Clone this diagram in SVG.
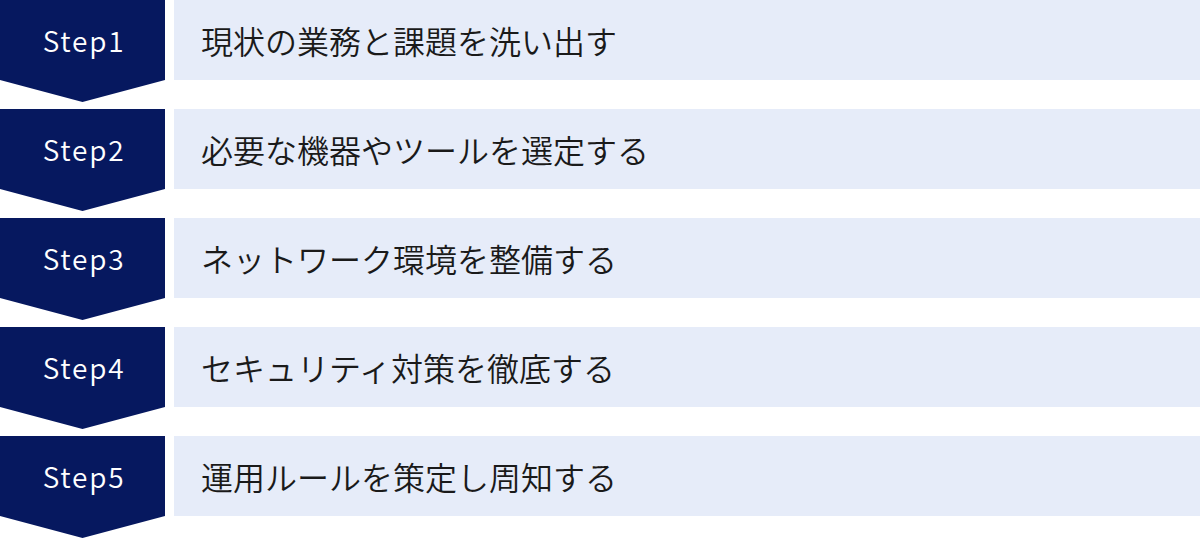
<svg xmlns="http://www.w3.org/2000/svg" width="1200" height="538" viewBox="0 0 1200 538">
<defs>
<style>
.chev{fill:#06185F}
.bar{fill:#E6ECF9}
.step{font-family:"Noto Sans CJK JP","Noto Sans",sans-serif;font-size:28px;font-weight:350;fill:#FFFFFF;text-anchor:middle;letter-spacing:1.8px}
.lbl{font-family:"Noto Sans CJK JP","Noto Sans",sans-serif;font-size:32px;font-weight:350;fill:#1A1A1A}
</style>
<polygon id="chevShape" points="0,0 165,0 165,80 82.5,102 0,80"/>
</defs>
<rect width="1200" height="538" fill="#FFFFFF"/>
<g id="connectors"></g>
<g id="step1" transform="translate(0,0)">
<use href="#chevShape" class="chev"/>
<rect class="bar" x="174" y="0" width="1026" height="80"/>
<text class="step" x="84" y="52">Step1</text>
<text class="lbl" x="201" y="54">現状の業務と課題を洗い出す</text>
</g>
<g id="step2" transform="translate(0,109)">
<use href="#chevShape" class="chev"/>
<rect class="bar" x="174" y="0" width="1026" height="80"/>
<text class="step" x="84" y="52">Step2</text>
<text class="lbl" x="201" y="54">必要な機器やツールを選定する</text>
</g>
<g id="step3" transform="translate(0,218)">
<use href="#chevShape" class="chev"/>
<rect class="bar" x="174" y="0" width="1026" height="80"/>
<text class="step" x="84" y="52">Step3</text>
<text class="lbl" x="201" y="54">ネットワーク環境を整備する</text>
</g>
<g id="step4" transform="translate(0,327)">
<use href="#chevShape" class="chev"/>
<rect class="bar" x="174" y="0" width="1026" height="80"/>
<text class="step" x="84" y="52">Step4</text>
<text class="lbl" x="201" y="54">セキュリティ対策を徹底する</text>
</g>
<g id="step5" transform="translate(0,436)">
<use href="#chevShape" class="chev"/>
<rect class="bar" x="174" y="0" width="1026" height="80"/>
<text class="step" x="84" y="52">Step5</text>
<text class="lbl" x="201" y="54">運用ルールを策定し周知する</text>
</g>
</svg>
